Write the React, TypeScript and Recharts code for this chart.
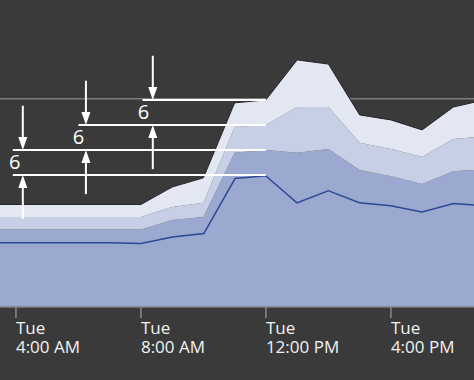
import React from 'react';
import { AreaChart, Area, XAxis, YAxis, CartesianGrid, ReferenceLine, ReferenceDot } from 'recharts';

// hour of day (Tuesday)
const hours = [3, 4, 5, 6, 7, 8, 9, 10, 11, 12, 13, 14, 15, 16, 17, 18, 19];
// stacked series (bottom to top)
const seriesA = [15.6, 15.6, 15.6, 15.6, 15.6, 15.4, 17.0, 17.8, 31.0, 31.7, 25.2, 28.1, 25.2, 24.5, 23.0, 25.0, 24.5];
const seriesB = [3.0, 3.0, 3.0, 3.0, 3.0, 3.2, 3.9, 3.8, 6.0, 6.0, 11.8, 9.8, 7.7, 6.9, 6.5, 7.6, 8.5];
const seriesC = [3.0, 3.0, 3.0, 3.0, 3.0, 3.0, 3.1, 3.4, 6.2, 6.0, 11.0, 10.1, 6.5, 6.5, 6.5, 7.7, 8.0];
const seriesD = [3.0, 3.0, 3.0, 3.0, 3.0, 3.0, 4.8, 6.0, 5.8, 6.0, 11.3, 10.3, 6.7, 7.0, 6.5, 7.7, 8.7];

const xTicks = [4, 8, 12, 16];
const tickDay = 'Tue';
const tickTimes: Record<number, string> = { 4: '4:00 AM', 8: '8:00 AM', 12: '12:00 PM', 16: '4:00 PM' };
const gridValues = [50];

// annotation: levels at 12 PM, start hour of each level line
const levels = [31.7, 37.7, 43.7, 49.7];
const levelStarts = [3.9, 3.9, 6.0, 8.05];
const levelEnd = 12;
// dimension arrows: x hour, lower level index, label x hour
const dims = [
  { x: 4.22, lo: 0, labelX: 3.78 },
  { x: 6.24, lo: 1, labelX: 5.82 },
  { x: 8.38, lo: 2, labelX: 7.9 },
];
const dimLabel = '6';
const arrowLen = 10.6;

const data = hours.map((h, i) => ({ h, a: seriesA[i], b: seriesB[i], c: seriesC[i], d: seriesD[i] }));

const FONT = '"Open Sans", "DejaVu Sans", sans-serif';

const Tick = (props: any) => {
  const { x, y, payload } = props;
  return (
    <text x={x} y={y} fill="#f2f2f2" fontFamily={FONT} fontSize={17} textAnchor="start">
      <tspan x={x} dy={16}>{tickDay}</tspan>
      <tspan x={x} dy={19}>{tickTimes[payload.value]}</tspan>
    </text>
  );
};

const ArrowShape = (props: any) => {
  const { x1, y1, x2, y2 } = props;
  const dir = Math.sign(y2 - y1) || 1;
  const hl = 13;
  const hw = 4.5;
  return (
    <g>
      <line x1={x1} y1={y1} x2={x2} y2={y2 - dir * (hl - 2)} stroke="#ffffff" strokeWidth={2} />
      <polygon points={`${x2},${y2} ${x2 - hw},${y2 - dir * hl} ${x2 + hw},${y2 - dir * hl}`} fill="#ffffff" />
    </g>
  );
};

const LabelShape = (props: any) => {
  const { cx, cy } = props;
  return (
    <text x={cx} y={cy} dy={7} fill="#ffffff" fontFamily={FONT} fontSize={20} textAnchor="start">
      {dimLabel}
    </text>
  );
};

export default function App() {
  return (
    <div style={{ position: 'absolute', left: 0, top: 0, width: 474, height: 380, background: '#3a3a3a' }}>
      <AreaChart width={474} height={380} data={data} margin={{ top: 7, right: 0, left: 0, bottom: 0 }}>
        <CartesianGrid vertical={false} horizontalValues={gridValues} stroke="#7d7d7d" strokeWidth={1.5} />
        <XAxis
          dataKey="h"
          type="number"
          domain={[3.49, 18.66]}
          allowDataOverflow
          ticks={xTicks}
          tick={<Tick />}
          tickSize={11}
          tickMargin={0}
          height={73}
          axisLine={{ stroke: '#808080', strokeWidth: 1.5 }}
          tickLine={{ stroke: '#8a8a8a', strokeWidth: 1.5 }}
        />
        <YAxis hide domain={[0, 72]} allowDataOverflow />
        <Area dataKey="a" stackId="s" type="linear" fill="#9ba9d0" fillOpacity={1} stroke="#2d4896" strokeWidth={3} isAnimationActive={false} />
        <Area dataKey="b" stackId="s" type="linear" fill="#9ba9d0" fillOpacity={1} stroke="none" isAnimationActive={false} />
        <Area dataKey="c" stackId="s" type="linear" fill="#c6cfe5" fillOpacity={1} stroke="none" isAnimationActive={false} />
        <Area dataKey="d" stackId="s" type="linear" fill="#e3e7f2" fillOpacity={1} stroke="#262626" strokeWidth={1} isAnimationActive={false} />
        {levels.map((lv, i) => (
          <ReferenceLine
            key={`lv${i}`}
            segment={[{ x: levelStarts[i], y: lv }, { x: levelEnd, y: lv }]}
            stroke="#ffffff"
            strokeWidth={2}
          />
        ))}
        {dims.map((d, i) => (
          <ReferenceLine
            key={`dn${i}`}
            segment={[{ x: d.x, y: levels[d.lo + 1] + arrowLen }, { x: d.x, y: levels[d.lo + 1] }]}
            shape={<ArrowShape />}
          />
        ))}
        {dims.map((d, i) => (
          <ReferenceLine
            key={`up${i}`}
            segment={[{ x: d.x, y: levels[d.lo] - arrowLen }, { x: d.x, y: levels[d.lo] }]}
            shape={<ArrowShape />}
          />
        ))}
        {dims.map((d, i) => (
          <ReferenceDot
            key={`lb${i}`}
            x={d.labelX}
            y={(levels[d.lo] + levels[d.lo + 1]) / 2}
            r={0}
            shape={<LabelShape />}
          />
        ))}
      </AreaChart>
    </div>
  );
}
